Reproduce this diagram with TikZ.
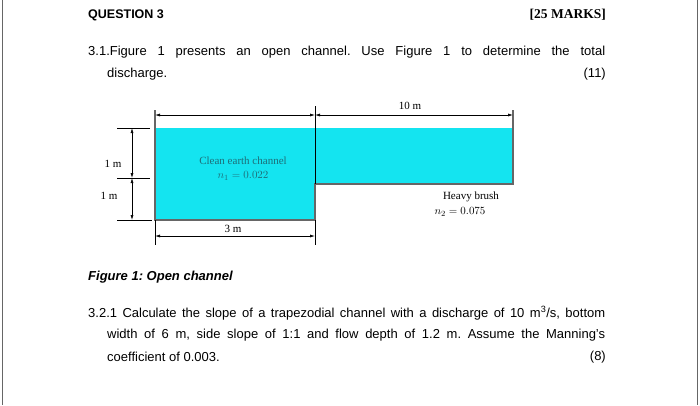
\documentclass[tikz,border=0pt]{standalone}
\usepackage{fontspec}
\setmainfont{Liberation Sans}
\newfontfamily\serifb{Liberation Serif}
\usetikzlibrary{arrows.meta}
\definecolor{water}{RGB}{20,228,240}
\definecolor{tealtxt}{RGB}{30,110,120}
\frenchspacing
\begin{document}
\begin{tikzpicture}[x=1pt,y=-1pt,
  txt/.style={anchor=west,inner sep=0,font=\fontsize{13}{15}\selectfont},
  fig/.style={inner sep=0,font=\serifb\fontsize{11}{12}\selectfont},
  dim/.style={{Latex[length=5pt,width=3pt]}-{Latex[length=5pt,width=3pt]},line width=0.6pt},
  wall/.style={line width=2.2pt,draw=black!60}]
\useasboundingbox (0,0) rectangle (700,405);
\draw[line width=0.8pt,black!60] (2,0)--(2,405) (697,0)--(697,405);
\node[txt,font=\bfseries\fontsize{12.5}{14}\selectfont] (q) at (88,15) {QUESTION 3};
\node[anchor=east,inner sep=0,font=\serifb\bfseries\fontsize{13.5}{15}\selectfont] (m) at (606,15) {[25 MARKS]};
\node[txt] (p1) at (88,52) {\makebox[517pt][s]{3.1.Figure 1 presents an open channel. Use Figure 1 to determine the total}};
\node[txt] (p2) at (107,74) {discharge.};
\node[anchor=east,inner sep=0,font=\fontsize{13}{15}\selectfont] (p3) at (606,74) {(11)};
% water
\fill[water] (155,128) rectangle (315,220);
\fill[water] (315,128) rectangle (513,184);
\draw[wall] (155,110)--(155,220)--(315,220)--(315,184)--(513,184)--(513,110);
% dims
\coordinate (a1) at (155,115); \coordinate (a2) at (315,115); \coordinate (a3) at (513,115);
\draw[dim] (a1)--(a2);
\draw[dim] (a2)--(a3);
\draw[line width=0.6pt] (315,106)--(315,184);
\node[fig] (l10) at (410,106) {10 m};
\draw[line width=0.6pt] (117,128)--(150,128) (117,178)--(150,178) (117,220)--(152,220);
\coordinate (v1) at (132,128); \coordinate (v2) at (132,178); \coordinate (v3) at (132,220);
\draw[dim] (v1)--(v2);
\draw[dim] (v2)--(v3);
\node[fig] (l1a) at (113,164) {1 m};
\node[fig] (l1b) at (109,196) {1 m};
\draw[line width=0.6pt] (155,220)--(155,245) (315,220)--(315,245);
\coordinate (b1) at (155,236); \coordinate (b2) at (315,236);
\draw[dim] (b1)--(b2);
\node[fig] (l3) at (233,229) {3 m};
\node[fig,text=tealtxt] (c1) at (243,161) {Clean earth channel};
\node[fig,text=tealtxt] (c2) at (243,176) {$n_1=0.022$};
\node[fig] (h1) at (471,197) {Heavy brush};
\node[fig] (h2) at (460,212) {$n_2=0.075$};
\node[txt,font=\bfseries\itshape\fontsize{13}{15}\selectfont] (fc) at (88,277) {Figure 1: Open channel};
\node[txt] (r1) at (88,313) {\makebox[517pt][s]{3.2.1 Calculate the slope of a trapezodial channel with a discharge of 10 m\textsuperscript{3}/s, bottom}};
\node[txt] (r2) at (107,335) {\makebox[498pt][s]{width of 6 m, side slope of 1:1 and flow depth of 1.2 m. Assume the Manning's}};
\node[txt] (r3) at (107,357) {coefficient of 0.003.};
\node[anchor=east,inner sep=0,font=\fontsize{13}{15}\selectfont] (r4) at (606,357) {(8)};
\end{tikzpicture}
\end{document}
